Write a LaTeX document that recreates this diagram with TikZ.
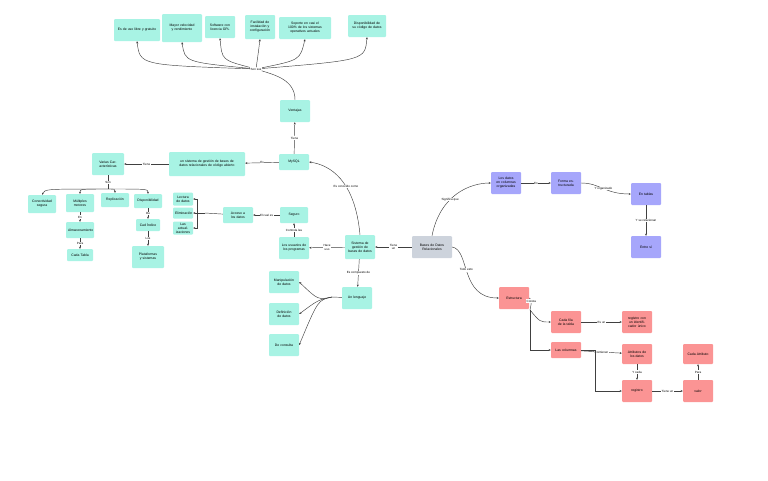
\documentclass[tikz,border=0pt]{standalone}
\usepackage{fontspec}
\setmainfont{Liberation Sans}
\usetikzlibrary{arrows.meta}
\definecolor{mint}{HTML}{A8F3E4}
\definecolor{lav}{HTML}{A6A6FB}
\definecolor{salmon}{HTML}{FB9494}
\definecolor{greyb}{HTML}{CDD3DC}
\begin{document}
\begin{tikzpicture}[x=1pt,y=-1pt,
 bx/.style={fill=mint,rounded corners=1pt,align=center,inner sep=1pt,font=\fontsize{3.4}{4}\selectfont},
 lb/.style={font=\fontsize{3}{3.5}\selectfont,fill=white,inner sep=0.5pt},
 ar/.style={draw=black!75,line width=0.45pt,-{Stealth[length=2.2pt,width=2pt]}},
 ln/.style={draw=black!75,line width=0.45pt}]
\useasboundingbox (0,0) rectangle (768,480);
\newcommand\bb[7][mint]{\node[bx,fill=#1,minimum width=#5pt,minimum height=#6pt,text width=#5pt-4pt] (#2) at (#3,#4) {#7};}
% top
\bb{t1}{137}{30}{46}{22}{Es de uso libre y gratuito}
\bb{t2}{182}{28}{40}{28}{Mayor velocidad y rendimiento}
\bb{t3}{220}{27}{30}{22}{Software con licencia GPL}
\bb{t4}{260}{27}{30}{24}{Facilidad de instalación y configuración}
\bb{t5}{305}{28}{52}{22}{Soporte en casi el 100\% de los sistemas operativos actuales}
\bb{t6}{367}{26}{38}{22}{Disponibilidad de su código de datos}
\node[lb] (hub1) at (256,69) {Son sus};
\bb{vent}{295}{111}{30}{22}{Ventajas}
\bb{mysql}{294}{162}{30}{16}{MySQL}
\bb{sgbd}{207}{164}{76}{24}{un sistema de gestión de bases de datos relacionales de código abierto}
\bb{car}{108}{164}{32}{22}{Varias Características}
\coordinate (hub2) at (108,189);
\bb{c1}{42}{204}{28}{18}{Conectividad segura}
\bb{c2}{80}{203}{28}{18}{Múltiples motores}
\bb{c3}{115}{200}{28}{14}{Replicación}
\bb{c4}{148}{201}{28}{14}{Disponibilidad}
\bb{alm}{80}{230}{28}{16}{Almacenamiento}
\bb{tab}{80}{255}{26}{12}{Cada Tabla}
\bb{ind}{148}{225}{24}{12}{Cad Índice}
\bb{plat}{148}{257}{32}{22}{Plataformas y sistemas}
\bb{l1}{183}{199}{20}{13}{Lectura de datos}
\bb{l2}{183}{213}{20}{11}{Eliminación}
\bb{l3}{183}{228}{20}{13}{Las actualizaciones}
\coordinate (hub3) at (205,213);
\bb{acc}{238}{215}{30}{16}{Acceso a los datos}
\bb{seg}{294}{215}{28}{16}{Seguro}
\bb{usr}{294}{248}{30}{22}{Los usuarios de los programas}
\bb{sis}{360}{247}{30}{24}{Sistema de gestión de bases de datos}
\bb[greyb]{bdr}{432}{247}{40}{22}{Bases de Datos Relacionales}
\bb{len}{357}{298}{30}{22}{Un lenguaje}
\coordinate (hub4) at (332,297);
\bb{m1}{284}{282}{30}{22}{Manipulación de datos}
\bb{m2}{284}{314}{30}{22}{Definición de datos}
\bb{m3}{284}{345}{30}{22}{De consulta}
% blue
\bb[lav]{b1}{506}{183}{30}{22}{Los datos en columnas organizadas}
\bb[lav]{b2}{566}{183}{30}{22}{Forma estructurada}
\bb[lav]{b3}{646}{194}{30}{22}{En tablas}
\bb[lav]{b4}{646}{247}{30}{22}{Entre sí}
% red
\bb[salmon]{est}{514}{298}{30}{22}{Estructura}
\bb[salmon]{r1}{566}{322}{30}{22}{Cada fila de la tabla}
\bb[salmon]{r2}{637}{322}{30}{22}{registro con un identificador único}
\bb[salmon]{r3}{566}{350}{30}{16}{Las columnas}
\bb[salmon]{r4}{637}{354}{30}{20}{Atributos de los datos}
\bb[salmon]{r5}{637}{391}{30}{22}{registro}
\bb[salmon]{r6}{698}{391}{30}{22}{valor}
\bb[salmon]{r7}{698}{354}{30}{20}{Cada Atributo}
% edges top
\draw[ln] (vent.north) .. controls (295,80) and (275,75) .. (hub1);
\foreach \t/\c in {t1/{(140,65)},t2/{(185,62)},t3/{(222,60)},t4/{(258,55)},t5/{(300,60)},t6/{(365,60)}}
  \draw[ar] (hub1) .. controls \c .. (\t.south);
\draw[ar] (mysql) -- node[lb]{Tiene} (vent);
\draw[ar] (mysql) -- node[lb]{Es} (sgbd);
\draw[ar] (sgbd) -- node[lb]{Tiene} (car);
\draw[ln] (car) -- node[lb]{Son} (hub2);
\foreach \t/\c in {c1/{(45,189)},c2/{(80,189)},c3/{(115,189)},c4/{(148,189)}}
  \draw[ar] (hub2) .. controls \c .. (\t.north);
\draw[ar] (c2) -- node[lb]{En} (alm);
\draw[ar] (alm) -- node[lb]{Para} (tab);
\draw[ar] (c4) -- node[lb]{De} (ind);
\draw[ar] (ind) -- node[lb]{Los} (plat);
\draw[ar] (seg) -- node[lb]{El cual es} (acc);
\draw[ln] (acc) -- (hub3);
\draw[ar] (hub3) -- (197,213) |- (l1);
\draw[ar] (hub3) -- (l2);
\draw[ar] (hub3) -- (197,213) |- (l3);
\draw[ar] (usr) -- node[lb]{Controla las} (seg);
\draw[ar] (sis) -- node[lb,align=center]{Hace\\uso} (usr);
\draw[ar] (sis.north) .. controls (355,180) and (330,165) .. node[lb,pos=0.4]{Es conocido como} (mysql.east);
\draw[ar] (bdr) -- node[lb,align=center]{Tiene\\un} (sis);
\draw[ar] (sis) -- node[lb]{Es compuesto de} (len);
\draw[ln] (len) -- (hub4);
\foreach \t in {m1,m2,m3} \draw[ar] (hub4) .. controls (318,300) .. (\t.east);
% blue edges
\draw[ar] (bdr.north) .. controls (440,195) and (470,183) .. node[lb,pos=0.4]{Significa que} (b1);
\draw[ar] (b1) -- node[lb]{En} (b2);
\draw[ar] (b2) .. controls (600,183) and (605,194) .. node[lb]{Y organizado} (b3);
\draw[ar] (b3) -- node[lb]{Y se relacionan} (b4);
% red edges
\draw[ar] (bdr.east) .. controls (470,250) and (460,298) .. node[lb,pos=0.45]{Todo esto} (est);
\draw[ln] (est.east) .. controls (532,300) .. node[lb]{Consta} (530,310);
\draw[ar] (530,310) .. controls (540,322) .. (r1);
\draw[ar] (530,310) |- (r3);
\draw[ar] (r1) -- node[lb]{Es un} (r2);
\draw[ar] (r3) -- node[lb]{Contienen} (r4);
\draw[ar] (r3) -| (595,391) -- (r5);
\draw[ar] (r4) -- node[lb]{Y cada} (r5);
\draw[ar] (r5) -- node[lb]{Tiene un} (r6);
\draw[ar] (r6) -- node[lb]{Para} (r7);
\end{tikzpicture}
\end{document}
